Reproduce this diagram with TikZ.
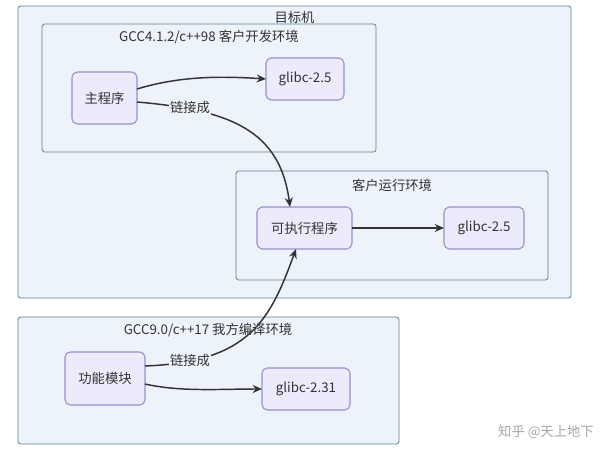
\documentclass[tikz,border=0pt]{standalone}
\usepackage{fontspec}
\setmainfont{Noto Sans CJK SC}
\usetikzlibrary{arrows.meta}
\definecolor{gfill}{HTML}{EDF3FA}
\definecolor{gline}{HTML}{5F8190}
\definecolor{nfill}{HTML}{ECEBFC}
\definecolor{nline}{HTML}{9A8FCB}
\definecolor{tx}{HTML}{333333}
\begin{document}
\begin{tikzpicture}[x=0.75pt,y=-0.75pt,font=\fontsize{10}{12}\selectfont,text=tx,
  grp/.style={draw=gline,fill=gfill,line width=0.6pt,rounded corners=2pt},
  nd/.style={draw=nline,fill=nfill,line width=0.8pt,rounded corners=4pt},
  ar/.style={draw=tx,line width=1.1pt,-{Stealth[length=7pt,width=6pt]}},
  lb/.style={fill=gfill,inner sep=1pt}]
\useasboundingbox (0,0) rectangle (600,454);
\fill[white] (0,0) rectangle (600,454);
\draw[grp] (18,6) rectangle (571,298);
\node (t1) at (294.5,17) {目标机};
\draw[grp] (42,24) rectangle (376,152);
\node (t2) at (209,37) {GCC4.1.2/c++98 客户开发环境};
\draw[grp] (236,171) rectangle (548,280);
\node (t3) at (392,185) {客户运行环境};
\draw[grp] (18,317) rectangle (399,444);
\node (t4) at (208,330) {GCC9.0/c++17 我方编译环境};
\draw[nd] (72,72) rectangle (137,124); \node (m) at (104.5,98) {主程序};
\draw[nd] (266,58) rectangle (344,100); \node (g1) at (305,79) {glibc-2.5};
\draw[nd] (257,207) rectangle (352,249); \node (e) at (304.5,228) {可执行程序};
\draw[nd] (444,207) rectangle (524,249); \node (g2) at (484,228) {glibc-2.5};
\draw[nd] (65,352) rectangle (145,405); \node (f) at (105,378.5) {功能模块};
\draw[nd] (262,368) rectangle (350,410); \node (g3) at (306,389) {glibc-2.31};
\coordinate (ms) at (137,89); \coordinate (m2) at (137,102);
\coordinate (g1w) at (266,79);
\coordinate (en) at (290,207); \coordinate (es) at (296,249);
\coordinate (ew) at (352,228); \coordinate (g2w) at (444,228);
\coordinate (fs) at (145,366); \coordinate (f2) at (145,384);
\coordinate (g3w) at (262,389);
\draw[ar] (ms) .. controls (180,76) and (220,76) .. (g1w);
\draw[ar] (m2) .. controls (230,110) and (280,130) .. (en);
\node[lb] (l1) at (190,107) {链接成};
\draw[ar] (ew) -- (g2w);
\draw[ar] (fs) .. controls (250,362) and (270,320) .. (es);
\node[lb] (l2) at (190,360) {链接成};
\draw[ar] (f2) .. controls (180,392) and (220,389) .. (g3w);
\node[text=gray!70] (wm) at (546,432) {知乎 @天上地下};
\end{tikzpicture}
\end{document}
